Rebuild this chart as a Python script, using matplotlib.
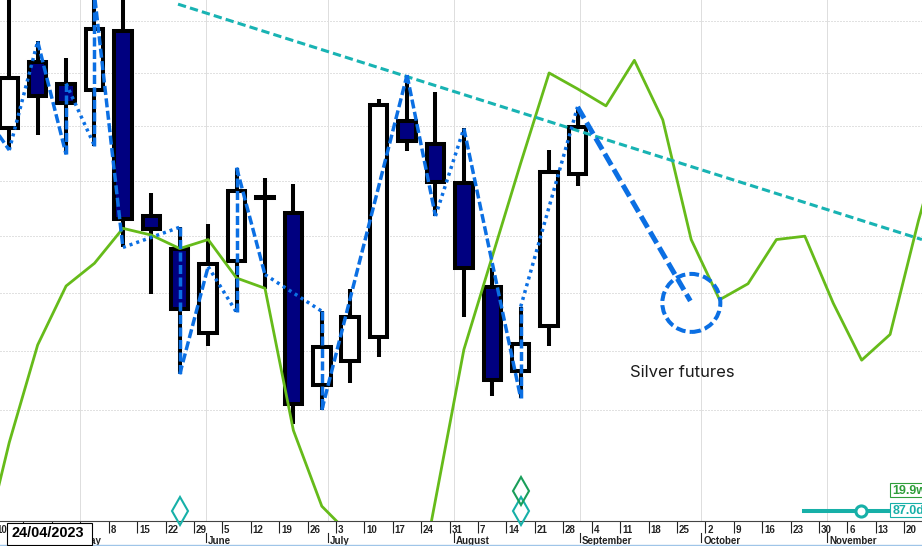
import numpy as np
import pandas as pd
import matplotlib
matplotlib.use('Agg')
import matplotlib.pyplot as plt
from matplotlib import transforms
from matplotlib.patches import Circle, Rectangle
from matplotlib.lines import Line2D
from matplotlib.ticker import NullLocator

plt.rcParams['font.family'] = ['Liberation Sans', 'DejaVu Sans']
plt.rcParams['lines.scale_dashes'] = False

# weekly candles, first one is the week of 10 Apr 2023
opens  = [24.98, 25.60, 25.40, 25.34, 25.90, 24.18, 23.89, 23.15, 23.78, 24.35, 24.21,
          22.71, 22.91, 23.12, 25.05, 24.84, 24.48, 23.55, 22.83, 23.21, 24.56]
closes = [25.45, 25.28, 25.22, 25.92, 24.15, 24.06, 23.36, 23.75, 24.41, 24.34, 22.55,
          23.03, 23.29, 25.20, 24.86, 24.49, 23.72, 22.75, 23.06, 24.58, 24.99]
highs  = [26.30, 25.80, 25.64, 26.25, 26.25, 24.39, 24.08, 24.11, 24.62, 24.52, 24.47,
          23.34, 23.53, 25.25, 25.48, 25.32, 24.98, 23.72, 23.38, 24.78, 25.18]
lows   = [24.78, 24.92, 24.74, 24.82, 23.90, 23.49, 22.80, 23.04, 23.33, 23.53, 22.38,
          22.50, 22.73, 22.95, 24.77, 24.18, 23.29, 22.62, 22.60, 23.04, 24.45]

# swing line (x in weeks), one style per segment
zz_x = [-1, 0, 1, 2, 2, 3, 3, 4, 6, 6, 7, 8, 8, 9, 11, 11, 14, 15, 16, 18, 18, 20, 23.97]
zz_y = [25.16, 24.78, 25.80, 24.74, 25.40, 24.82, 26.25, 23.90, 24.08, 22.80, 23.73, 23.33,
        24.62, 23.66, 23.34, 22.50, 25.48, 24.18, 24.98, 22.60, 23.38, 25.18, 23.43]
zz_style = ['dash', 'dot', 'dash', 'dash', 'dot', 'dash', 'dash', 'dot', 'dash', 'dash', 'dot',
            'dash', 'dash', 'dot', 'dash', 'dash', 'dash', 'dot', 'dash', 'dash', 'dot', 'proj']

# green cycle line, one point per week starting at week -1
green_x = list(range(-1, 34))
green_y = [21.28, 22.23, 23.05, 23.56, 23.76, 24.07, 24.01, 23.89, 23.97, 23.63, 23.54,
           22.33, 21.71, 21.48, 20.81, 20.58, 21.76, 23.01, 23.82, 24.66, 25.50, 25.35,
           25.19, 25.62, 25.06, 23.97, 23.44, 23.58, 23.97, 24.00, 23.41, 22.92, 23.14,
           24.14, 25.06]

trend_x = [5.94, 32.12]
trend_y = [26.16, 23.97]

cyan_signals = [6, 18]
green_signals = [18]

grid_prices = [22.5, 23.0, 23.5, 24.0, 24.5, 25.0, 25.5, 26.0]
month_names = ['May', 'June', 'July', 'August', 'September', 'October', 'November']
start = pd.Timestamp('2023-04-10')

BLUE = '#0b6fe3'
GREEN = '#66bb1a'
CYAN = '#18b3b3'
TEAL = '#17b0a8'
NAVY = '#000080'
PX = 28.414  # pixels per week

fig = plt.figure(figsize=(9.22, 5.46), dpi=100)
ax = fig.add_axes([0, 25 / 546, 1, 521 / 546])
ax.set_yscale('log')
ax.yaxis.set_major_locator(NullLocator())
ax.yaxis.set_minor_locator(NullLocator())
for s in ['top', 'left', 'right']:
    ax.spines[s].set_visible(False)
ax.spines['bottom'].set_color('#444444')
ax.spines['bottom'].set_linewidth(0.8)

# grid
for p in grid_prices:
    ax.axhline(p, color='#c4c4c4', lw=0.72, dashes=(0.72, 1.44), zorder=1)
months = pd.date_range('2023-05-01', '2023-11-01', freq='MS')
mpos = (months - start).days / 7 - 0.5
for m in mpos:
    ax.axvline(m, color='#dedede', lw=0.72, zorder=1)

# candles
x = np.arange(len(opens))
o = np.array(opens)
c = np.array(closes)
ax.vlines(x, lows, highs, color='black', lw=2.9, zorder=3)
ax.bar(x, np.abs(c - o), bottom=np.minimum(o, c), width=0.616,
       color=np.where(c >= o, 'white', NAVY), edgecolor='black', linewidth=2.9, zorder=4)

# lines over the candles
ax.plot(green_x, green_y, color=GREEN, lw=2.0, zorder=5)
ax.plot(trend_x, trend_y, color=CYAN, lw=2.2, dashes=(6, 3), zorder=5)

for i, st in enumerate(zz_style):
    xs = zz_x[i:i + 2]
    ys = zz_y[i:i + 2]
    if st == 'dash':
        ax.plot(xs, ys, color=BLUE, lw=2.5, dashes=(6.5, 2.5), dash_capstyle='butt', zorder=6)
    elif st == 'dot':
        ax.plot(xs, ys, color=BLUE, lw=2.5, dashes=(2.2, 2.9), dash_capstyle='butt', zorder=6)
    else:
        ax.plot(xs, ys, color=BLUE, lw=3.6, dashes=(9.4, 3.6), dash_capstyle='butt', zorder=6)

circ_tr = fig.dpi_scale_trans + transforms.ScaledTranslation(zz_x[-1], zz_y[-1], ax.transData)
ax.add_patch(Circle((0.01, -0.02), 0.29, transform=circ_tr, fill=False, ec=BLUE,
                    lw=2.9, ls=(0, (7, 3)), zorder=6))

ax.text(23.69, 22.78, 'Silver futures', family='Inter', fontsize=12, color='#1b1b1b',
        ha='center', va='baseline', zorder=7)

# signal diamonds at the bottom
xt = ax.get_xaxis_transform()
ax.plot(cyan_signals, [0.0198] * len(cyan_signals), transform=xt, ls='none', marker='d',
        ms=14.4, mfc='none', mec=TEAL, mew=1.5, clip_on=False, zorder=7)
ax.plot(green_signals, [0.0585] * len(green_signals), transform=xt, ls='none', marker='d',
        ms=14.4, mfc='none', mec='#1a9e5a', mew=1.5, clip_on=False, zorder=7)

# x axis: weekly ticks with day numbers, month names below
weeks = pd.date_range(start, periods=33, freq='7D')
wpos = np.arange(len(weeks)) - 0.5
ax.set_xticks(wpos)
ax.tick_params(axis='x', direction='out', length=8.3, width=0.8, color='#222222', labelbottom=False)
lab_tr = xt + transforms.ScaledTranslation(1.8 / 100, 0, fig.dpi_scale_trans)
for k, (pos, d) in enumerate(zip(wpos, weeks)):
    if 1 <= k <= 3:
        continue  # these sit under the date box
    ax.text(pos, -0.0225, str(d.day), transform=lab_tr, ha='left', va='baseline',
            fontsize=7, weight='bold', color='#222222', clip_on=False)
for pos, name in zip(mpos, month_names):
    ax.plot([pos, pos], [-0.023, -0.040], transform=xt, color='#222222', lw=0.8, clip_on=False)
    ax.text(pos, -0.0447, name, transform=lab_tr, ha='left', va='baseline',
            fontsize=7, weight='bold', color='#222222', clip_on=False)

ax.set_xlim(-9.25 / PX, (922 - 9.25) / PX)
ax.set_ylim(21.591, 26.2004)


def f(px, py):
    return px / 922, (546 - py) / 546


# date box
bx, by = f(6.7, 545)
fig.add_artist(Rectangle((bx, by), 85 / 922, 22.3 / 546, transform=fig.transFigure,
                         fc='white', ec='black', lw=0.8, zorder=5))
fig.text(*f(47.5, 532.8), '24/04/2023', ha='center', va='center', fontsize=10.4,
         weight='bold', color='black', zorder=6)

# bottom line
fig.add_artist(Line2D([0, 1], [0.0012, 0.0012], transform=fig.transFigure, color='#9fc5e8', lw=1.0))

# slider widget bottom right
fig.add_artist(Line2D([804 / 922, 890 / 922], [f(0, 510.7)[1]] * 2, transform=fig.transFigure,
                      color=TEAL, lw=2.9, zorder=5))
fig.add_artist(Line2D([861 / 922], [f(0, 510.7)[1]], transform=fig.transFigure, marker='o',
                      ms=8, mfc='white', mec=TEAL, mew=2.2, ls='none', zorder=6))
for (top, bot, txt, col) in [(503, 517, '87.0d', TEAL), (483, 497, '19.9w', '#2e9e3a')]:
    rx, ry = f(890, bot)
    fig.add_artist(Rectangle((rx, ry), 40 / 922, (bot - top) / 546, transform=fig.transFigure,
                             fc='white', ec=col, lw=0.8, zorder=6))
    fig.text(*f(892.5, (top + bot) / 2 + 0.5), txt, ha='left', va='center', fontsize=9,
             weight='bold', color=col, zorder=7)

fig.savefig('out.png', dpi=100)
